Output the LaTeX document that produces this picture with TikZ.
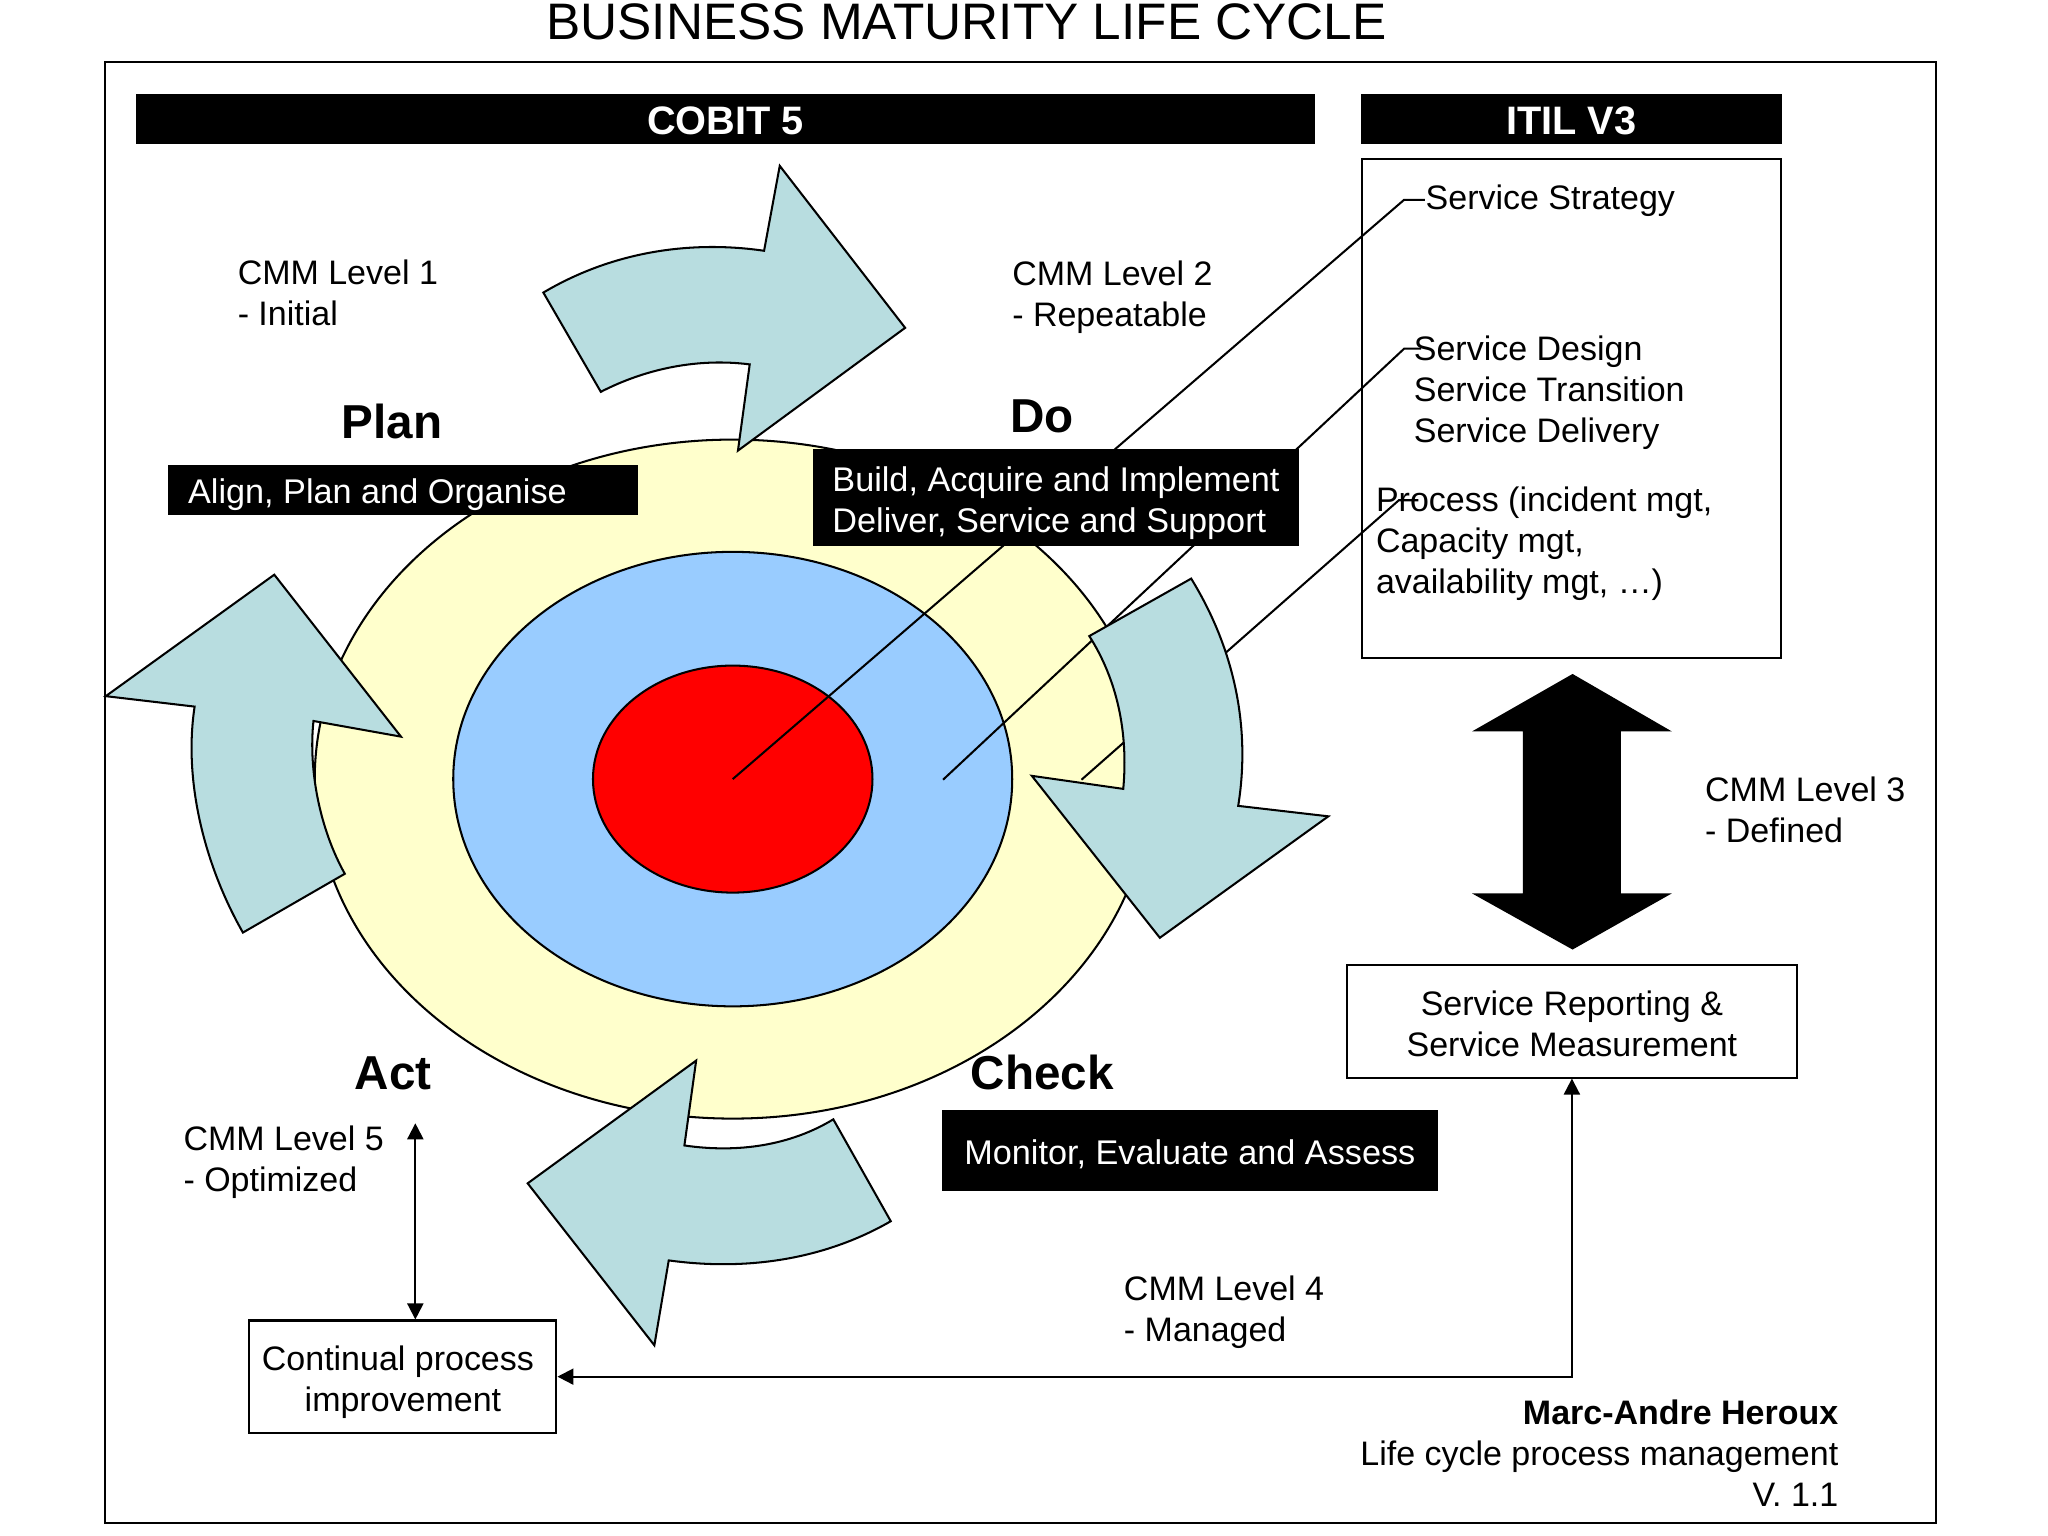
\documentclass[tikz,border=0pt]{standalone}
\usepackage{xcolor}
\usepackage{fontspec}
\setmainfont{Liberation Sans}
\usetikzlibrary{arrows.meta, positioning, calc, shapes.geometric}
\definecolor{planyellow}{HTML}{FFFFCC}
\definecolor{ringblue}{HTML}{99CCFF}
\definecolor{cycleteal}{HTML}{B8DDE0}
\tikzset{
>={Triangle[length=1.6mm,width=1.6mm]},
thin line/.style={line width=0.58pt},
body/.style={font=\fontsize{9.67}{11.7}\selectfont, inner sep=0pt, align=left},
phase/.style={font=\fontsize{13.55}{16}\selectfont\bfseries, inner sep=0pt},
bar/.style={%
    rectangle,
    fill=black,
    text=white,
    inner sep=0pt,
    font=\fontsize{9.74}{11.7}\selectfont,
    align=left,
},
headbar/.style={%
    bar,
    minimum height=0.496cm,
    font=\fontsize{11.3}{13}\selectfont\bfseries,
},
box/.style={%
    rectangle,
    draw=black,
    thin line,
    inner sep=0pt,
    align=center,
    font=\fontsize{9.67}{11.7}\selectfont,
},
disc/.style={%
    ellipse,
    draw=black,
    thin line,
    inner sep=0pt,
},
cyclearrow/.style={fill=cycleteal, draw=black, thin line, line join=miter},
}

\begin{document}
\begin{tikzpicture}[x=0.01306cm, y=-0.01306cm]
	\useasboundingbox (0,0) rectangle (1568,1176);

	% frame and title
	\node[box, minimum width=18.31cm, minimum height=14.61cm] at (781,606.5) (frame) {};
	\node[inner sep=0pt, font=\fontsize{14.6}{17}\selectfont] at (740,17) (title) {BUSINESS MATURITY LIFE CYCLE};

	% discs
	\node[disc, fill=planyellow, minimum width=8.36cm, minimum height=6.79cm] at (561,596.5) (outer) {};
	\node[disc, fill=ringblue, minimum width=5.59cm, minimum height=4.545cm] at (561,596.5) (middle) {};
	\node[disc, fill=red, minimum width=2.795cm, minimum height=2.27cm] at (561,596.5) (core) {};

	% text in the ITIL column
	\node[box, minimum width=4.19cm, minimum height=4.99cm] at (1203.5,313) (itil) {};
	\node[body, anchor=west] at (1091,153.5) (strategy) {Service Strategy};
	\node[body, anchor=west] at (1082,300.5) (design) {Service Design\\Service Transition\\Service Delivery};
	\node[body, anchor=west] at (1053,416) (process) {Process (incident mgt,\\Capacity mgt,\\availability mgt, \ldots)};

	% leader lines
	\coordinate (ringpoint) at (722,597);
	\coordinate (yellowpoint) at (828,597);
	\coordinate (bend1) at (1075,153);
	\coordinate (bend2) at (1075,267);
	\coordinate (bend3) at (1071,383);
	\coordinate (tail2) at (1088,267);
	\coordinate (tail3) at (1086,383);
	\draw[thin line] (core.center) -- (bend1) -- (strategy.west |- bend1);
	\draw[thin line] (ringpoint) -- (bend2) -- (tail2);
	\draw[thin line] (yellowpoint) -- (bend3) -- (tail3);

	% cycle arrows
	\draw[cyclearrow] (416,224) .. controls (470,192) and (530,184) .. (585,192) -- (597,127) -- (693,251)
		-- (565,345) -- (574,279) .. controls (535,274) and (495,282) .. (460,300) -- cycle;
	\draw[cyclearrow] (912,443) .. controls (944,495) and (958,555) .. (948,617) -- (1017,625) -- (888,718)
		-- (790,594) -- (860,604) .. controls (864,560) and (855,520) .. (834,487) -- cycle;
	\draw[cyclearrow] (682,935) .. controls (630,965) and (570,973) .. (512,965) -- (501,1030) -- (404,906)
		-- (533,812) -- (524,877) .. controls (565,883) and (605,877) .. (638,857) -- cycle;
	\draw[cyclearrow] (186,714) .. controls (158,665) and (140,600) .. (149,541) -- (81,533) -- (210,440)
		-- (307,564) -- (240,552) .. controls (236,590) and (245,635) .. (264,669) -- cycle;

	% header bars
	\node[headbar, minimum width=11.79cm] at (555.5,91) (cobit) {\rule{0pt}{0.315cm}COBIT 5};
	\node[headbar, minimum width=4.205cm] at (1203,91) (itilv) {\rule{0pt}{0.315cm}ITIL V3};

	% phases
	\node[phase] at (300,322.5) (plan) {Plan};
	\node[phase] at (798,319) (do) {Do};
	\node[phase] at (301,822) (act) {Act};
	\node[phase] at (798,821) (check) {Check};
	\node[bar, minimum width=4.70cm, minimum height=0.496cm] at (308.5,375) (align) {\rule{0pt}{0.35cm}Align, Plan and Organise\hspace*{0.51cm}};
	\node[bar, minimum width=4.86cm, minimum height=0.966cm] at (808.5,381) (build) {\rule{0pt}{0.35cm}Build, Acquire and Implement\\Deliver, Service and Support};
	\node[bar, minimum width=4.96cm, minimum height=0.81cm] at (911,881) (monitor) {\rule{0pt}{0.325cm}Monitor, Evaluate and Assess};

	% maturity levels
	\node[body, anchor=west] at (181.5,224.5) (level1) {CMM Level 1\\- Initial};
	\node[body, anchor=west] at (774.5,227.5) (level2) {CMM Level 2\\- Repeatable};
	\node[body, anchor=west] at (1305,620) (level3) {CMM Level 3\\- Defined};
	\node[body, anchor=west] at (860,1005) (level4) {CMM Level 4\\- Managed};
	\node[body, anchor=west] at (140,890) (level5) {CMM Level 5\\- Optimized};

	% boxes at the bottom
	\node[box, minimum width=4.505cm, minimum height=1.123cm] at (1203.5,782) (report) {\rule{0pt}{0.30cm}Service Reporting \&\\Service Measurement};
	\node[box, minimum width=3.07cm, minimum height=1.123cm] at (308.5,1054) (improve) {\rule{0pt}{0.35cm}Continual process\hspace*{0.1cm}\\improvement};

	\fill[black] (1204,516) -- (1280,560) -- (1241,560) -- (1241,684) -- (1280,684) -- (1204,727)
		-- (1127,684) -- (1166,684) -- (1166,560) -- (1127,560) -- cycle;

	\coordinate (actfoot) at (318,860);
	\draw[thin line, <->] (actfoot) -- (actfoot |- improve.north);
	\draw[thin line, <->] (report.south) |- (improve.east);

	\node[body, anchor=south east, align=right] at (1408,1154) (credit) {\textbf{Marc-Andre Heroux}\\Life cycle process management\\V. 1.1};
\end{tikzpicture}
\end{document}
